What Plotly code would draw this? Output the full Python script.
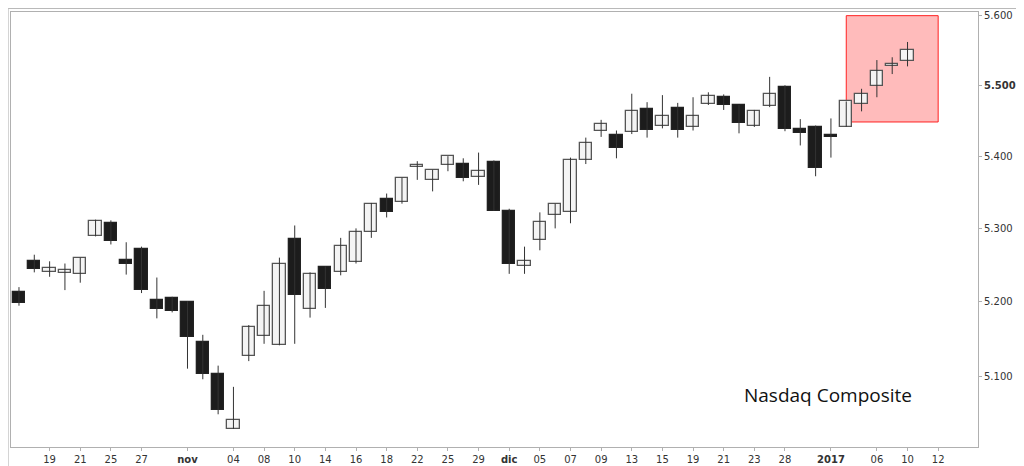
import plotly.graph_objects as go

# trading days, 17 oct 2016 .. 10 jan 2017 (+ two empty slots for the axis)
dates = [
  '2016-10-17', '2016-10-18', '2016-10-19', '2016-10-20', '2016-10-21',
  '2016-10-24', '2016-10-25', '2016-10-26', '2016-10-27', '2016-10-28',
  '2016-10-31', '2016-11-01', '2016-11-02', '2016-11-03', '2016-11-04',
  '2016-11-07', '2016-11-08', '2016-11-09', '2016-11-10', '2016-11-11',
  '2016-11-14', '2016-11-15', '2016-11-16', '2016-11-17', '2016-11-18',
  '2016-11-21', '2016-11-22', '2016-11-23', '2016-11-25',
  '2016-11-28', '2016-11-29', '2016-11-30', '2016-12-01', '2016-12-02',
  '2016-12-05', '2016-12-06', '2016-12-07', '2016-12-08', '2016-12-09',
  '2016-12-12', '2016-12-13', '2016-12-14', '2016-12-15', '2016-12-16',
  '2016-12-19', '2016-12-20', '2016-12-21', '2016-12-22', '2016-12-23',
  '2016-12-27', '2016-12-28', '2016-12-29', '2016-12-30',
  '2017-01-03', '2017-01-04', '2017-01-05', '2017-01-06',
  '2017-01-09', '2017-01-10', '2017-01-11', '2017-01-12',
]
opens = [5214, 5256, 5240, 5239, 5238, 5290, 5308, 5257, 5272, 5203,
         5206, 5200, 5146, 5104, 5032, 5128, 5154, 5143, 5285, 5191,
         5247, 5241, 5254, 5295, 5341, 5337, 5385, 5367, 5388,
         5389, 5371, 5392, 5324, 5249, 5284, 5318, 5323, 5394, 5436,
         5429, 5434, 5466, 5443, 5468, 5441, 5473, 5483, 5472, 5442,
         5470, 5498, 5438, 5441, 5429, 5441, 5474, 5499, 5528, 5535, None, None]
highs = [5220, 5264, 5255, 5252, 5260, 5312, 5311, 5281, 5275, 5233,
         5207, 5201, 5156, 5115, 5087, 5169, 5215, 5260, 5304, 5240,
         5248, 5287, 5300, 5335, 5348, 5370, 5393, 5381, 5400,
         5397, 5405, 5394, 5327, 5275, 5322, 5334, 5398, 5426, 5451,
         5436, 5488, 5476, 5486, 5475, 5483, 5490, 5487, 5472, 5465,
         5512, 5500, 5452, 5443, 5453, 5477, 5495, 5536, 5540, 5562, None, None]
lows = [5195, 5240, 5234, 5216, 5226, 5289, 5278, 5237, 5212, 5178,
        5186, 5111, 5097, 5051, 5032, 5121, 5144, 5142, 5144, 5179,
        5192, 5236, 5252, 5287, 5315, 5334, 5367, 5351, 5379,
        5365, 5360, 5324, 5238, 5238, 5270, 5300, 5307, 5389, 5427,
        5397, 5431, 5426, 5439, 5426, 5436, 5472, 5465, 5432, 5441,
        5469, 5435, 5415, 5372, 5398, 5441, 5463, 5483, 5516, 5527, None, None]
closes = [5199, 5244, 5246, 5243, 5259, 5310, 5283, 5251, 5216, 5190,
          5188, 5153, 5104, 5057, 5044, 5167, 5194, 5252, 5209, 5238,
          5218, 5276, 5295, 5334, 5322, 5369, 5387, 5381, 5400,
          5369, 5380, 5324, 5251, 5256, 5309, 5334, 5395, 5418, 5445,
          5412, 5463, 5437, 5457, 5437, 5457, 5485, 5472, 5447, 5464,
          5487, 5438, 5432, 5383, 5427, 5477, 5488, 5520, 5531, 5550, None, None]

tick_dates = ['2016-10-19', '2016-10-21', '2016-10-25', '2016-10-27', '2016-11-01',
              '2016-11-04', '2016-11-08', '2016-11-10', '2016-11-14', '2016-11-16',
              '2016-11-18', '2016-11-22', '2016-11-25', '2016-11-29', '2016-12-01',
              '2016-12-05', '2016-12-07', '2016-12-09', '2016-12-13', '2016-12-15',
              '2016-12-19', '2016-12-21', '2016-12-23', '2016-12-28', '2017-01-03',
              '2017-01-06', '2017-01-10', '2017-01-12']
tick_labels = ['19', '21', '25', '27', '<b>nov</b>', '04', '08', '10', '14', '16',
               '18', '22', '25', '29', '<b>dic</b>', '05', '07', '09', '13', '15',
               '19', '21', '23', '28', '<b>2017</b>', '06', '10', '12']

y_ticks = [5100, 5200, 5300, 5400, 5500, 5600]
y_labels = ['5.100', '5.200', '5.300', '5.400', '<b>5.500</b>', '5.600']

# highlighted zone
box_dates = ['2017-01-04', '2017-01-12']
box_values = [5448, 5600]

pos = {d: i for i, d in enumerate(dates)}
days = [i for i, o in enumerate(opens) if o is not None]

fig = go.Figure()

# wicks
wx, wy = [], []
for i in days:
  wx += [i, i, None]
  wy += [lows[i], highs[i], None]
fig.add_trace(go.Scatter(x=wx, y=wy, mode='lines', line=dict(color='#333', width=1),
                         hoverinfo='skip', showlegend=False))

# bodies
up = [i for i in days if closes[i] >= opens[i]]
dn = [i for i in days if closes[i] < opens[i]]
for sel, fill, edge in [(up, '#f4f4f4', '#555555'), (dn, '#1c1c1c', '#222222')]:
  fig.add_trace(go.Bar(
    x=sel,
    base=[min(opens[i], closes[i]) for i in sel],
    y=[max(abs(closes[i] - opens[i]), 1.5) for i in sel],
    width=0.8, marker=dict(color=fill, line=dict(color=edge, width=1.3)),
    hoverinfo='skip', showlegend=False
  ))

fig.add_shape(
  type='rect', layer='below',
  x0=pos[box_dates[0]], x1=pos[box_dates[1]], y0=box_values[0], y1=box_values[1],
  fillcolor='rgba(255,150,150,0.65)', line=dict(color='#ff2020', width=1)
)
fig.add_shape(type='rect', xref='paper', yref='paper', x0=-0.003, x1=1.052, y0=-0.058, y1=1.008,
              line=dict(color='#b8b8b8', width=1))

fig.add_annotation(
  x=0.845, y=0.085, xref='paper', yref='paper', text='Nasdaq Composite', showarrow=False,
  xanchor='center', font=dict(family='Open Sans', size=19, color='#111')
)

fig.update_layout(
  width=1024, height=466,
  plot_bgcolor='white', paper_bgcolor='white',
  margin=dict(l=3, r=54, t=4, b=27),
  barmode='overlay', bargap=0,
  font=dict(family='DejaVu Sans', size=10, color='#333'),
  xaxis=dict(
    range=[-0.52, 62.6],
    tickmode='array', tickvals=[pos[d] for d in tick_dates], ticktext=tick_labels,
    showgrid=False, zeroline=False, showline=True, mirror=True, linecolor='#b0b0b0',
    ticks='outside', ticklen=3, tickcolor='#b0b0b0', tickfont=dict(size=10)
  ),
  yaxis=dict(
    type='log', range=[3.6997, 3.7486], side='right',
    tickmode='array', tickvals=y_ticks, ticktext=y_labels,
    showgrid=False, zeroline=False, showline=True, mirror=True, linecolor='#b0b0b0',
    ticks='outside', ticklen=3, tickcolor='#b0b0b0', tickfont=dict(size=10)
  )
)

fig.write_html("out.html")
